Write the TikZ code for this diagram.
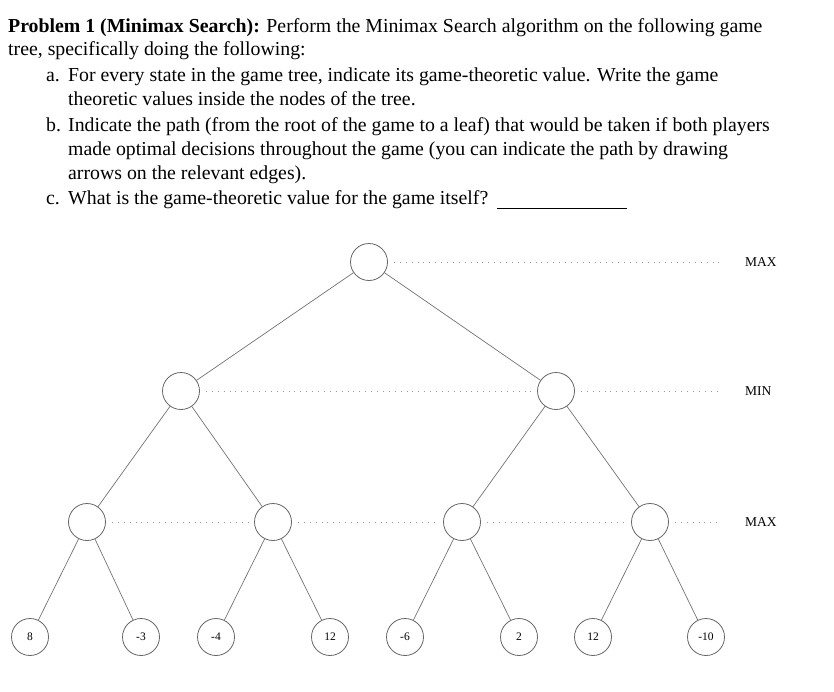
\documentclass[tikz,border=0pt]{standalone}
\usepackage{fontspec}
\setmainfont{Liberation Serif}
\begin{document}
\begin{tikzpicture}[x=1pt,y=-1pt,
  st/.style={circle,draw=black!60,line width=0.8pt,minimum size=37pt,inner sep=0pt,font=\fontsize{11.5}{13}\selectfont},
  ed/.style={draw=black!55,line width=0.7pt},
  lv/.style={draw=black!40,line width=0.9pt,dash pattern=on 0.9pt off 5pt},
  txt/.style={anchor=base west,inner sep=0pt,font=\fontsize{19.8}{22}\selectfont},
  lab/.style={anchor=west,inner sep=0pt,font=\fontsize{13.5}{15}\selectfont}]
\useasboundingbox (0,0) rectangle (834,691);
\node[txt] (t1) at (8,32) {\textbf{Problem 1 (Minimax Search):} Perform the Minimax Search algorithm on the following game};
\node[txt] (t2) at (8,55) {tree, specifically doing the following:};
\node[txt] (a1) at (46,81) {a.};
\node[txt] (a2) at (68,81) {For every state in the game tree, indicate its game-theoretic value. Write the game};
\node[txt] (a3) at (68,105) {theoretic values inside the nodes of the tree.};
\node[txt] (b1) at (46,131) {b.};
\node[txt] (b2) at (68,131) {Indicate the path (from the root of the game to a leaf) that would be taken if both players};
\node[txt] (b3) at (68,155) {made optimal decisions throughout the game (you can indicate the path by drawing};
\node[txt] (b4) at (68,179) {arrows on the relevant edges).};
\node[txt] (c1) at (46,204) {c.};
\node[txt] (c2) at (68,204) {What is the game-theoretic value for the game itself?};
\coordinate (u1) at (497,208); \coordinate (u2) at (627,208);
\draw[line width=0.8pt] (u1) -- (u2);

\node[st] (r) at (369,262) {};
\node[st] (m1) at (181,391) {};
\node[st] (m2) at (556,391) {};
\node[st] (x1) at (87,522) {};
\node[st] (x2) at (273,522) {};
\node[st] (x3) at (462,522) {};
\node[st] (x4) at (650,522) {};
\foreach \n/\x/\v in {l1/30/8,l2/141/-3,l3/216/-4,l4/330/12,l5/405/-6,l6/519/2,l7/593/12,l8/706/-10}
  \node[st] (\n) at (\x,637) {\v};
\draw[ed] (r)--(m1) (r)--(m2) (m1)--(x1) (m1)--(x2) (m2)--(x3) (m2)--(x4)
  (x1)--(l1) (x1)--(l2) (x2)--(l3) (x2)--(l4) (x3)--(l5) (x3)--(l6) (x4)--(l7) (x4)--(l8);
\coordinate (e0) at (720,262); \coordinate (e1) at (720,391); \coordinate (e2) at (720,522);
\draw[lv] ([xshift=6pt]r.east) -- (e0);
\draw[lv] ([xshift=6pt]m1.east) -- ([xshift=-6pt]m2.west);
\draw[lv] ([xshift=6pt]m2.east) -- (e1);
\draw[lv] ([xshift=6pt]x1.east) -- ([xshift=-6pt]x2.west);
\draw[lv] ([xshift=6pt]x2.east) -- ([xshift=-6pt]x3.west);
\draw[lv] ([xshift=6pt]x3.east) -- ([xshift=-6pt]x4.west);
\draw[lv] ([xshift=6pt]x4.east) -- (e2);
\node[lab] (L0) at (745,262) {MAX};
\node[lab] (L1) at (745,391) {MIN};
\node[lab] (L2) at (745,522) {MAX};
\end{tikzpicture}
\end{document}
